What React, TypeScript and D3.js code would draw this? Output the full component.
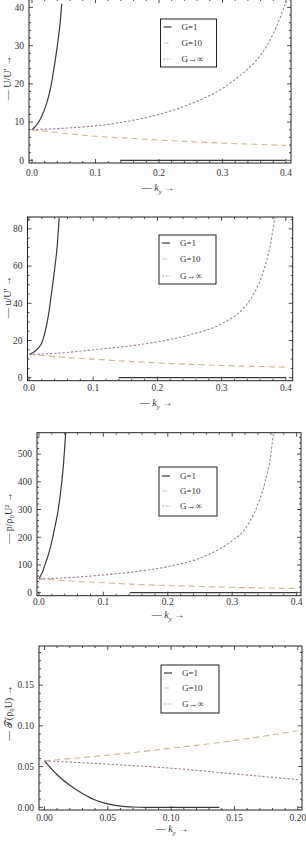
import React from "react";
import * as d3 from "d3";

// ---------- data ----------
const seriesNames = ["G=1", "G=10", "G\u2192\u221e"];

// Panel 1: U/U'
const p1G1: [number, number][] = [[0, 8], [0.005, 8.8], [0.01, 9.9], [0.015, 11.4], [0.02, 13.4], [0.025, 16], [0.03, 19.5], [0.035, 24.5], [0.04, 30], [0.044, 35.5], [0.047, 41]];
const p1G1Zero: [number, number][] = [[0.139, 0], [0.4, 0]];
const p1G10: [number, number][] = [[0, 8], [0.05, 7.1], [0.1, 6.3], [0.15, 5.8], [0.2, 5.3], [0.25, 4.9], [0.3, 4.5], [0.35, 4.2], [0.4, 3.9]];
const p1Ginf: [number, number][] = [[0, 8], [0.05, 8.4], [0.1, 9], [0.15, 10.2], [0.2, 12], [0.25, 14.8], [0.3, 18.8], [0.33, 22.5], [0.35, 25.5], [0.37, 30], [0.385, 35], [0.4, 41.5]];

// Panel 2: u/U'
const p2G1: [number, number][] = [[0, 12.5], [0.005, 13.3], [0.01, 14.5], [0.015, 16.2], [0.02, 18.8], [0.025, 24.5], [0.03, 33], [0.035, 45], [0.04, 58.5], [0.044, 71], [0.047, 86]];
const p2G1Zero: [number, number][] = [[0.14, 0], [0.4, 0]];
const p2G10: [number, number][] = [[0, 12.5], [0.05, 11.1], [0.1, 10], [0.15, 8.9], [0.2, 8], [0.25, 7.2], [0.3, 6.6], [0.35, 6.1], [0.4, 5.7]];
const p2Ginf: [number, number][] = [[0, 12.5], [0.05, 13.3], [0.1, 15], [0.15, 16.8], [0.2, 19.3], [0.25, 23], [0.3, 29], [0.33, 36], [0.35, 45], [0.365, 57], [0.375, 70], [0.383, 86]];

// Panel 3: p/rho0 U^2
const p3G1: [number, number][] = [[0, 50], [0.005, 72], [0.01, 105], [0.015, 140], [0.02, 185], [0.025, 240], [0.03, 300], [0.035, 390], [0.038, 460], [0.0415, 577]];
const p3G1Zero: [number, number][] = [[0.141, 0], [0.4, 0]];
const p3G10: [number, number][] = [[0, 50], [0.05, 42], [0.1, 36], [0.15, 30], [0.2, 26], [0.25, 22.5], [0.3, 19.5], [0.35, 17], [0.4, 15]];
const p3Ginf: [number, number][] = [[0, 50], [0.05, 55], [0.1, 64], [0.15, 76], [0.2, 94], [0.25, 125], [0.3, 188], [0.32, 230], [0.34, 320], [0.35, 390], [0.36, 500], [0.364, 577]];

// Panel 4: T/(rho0 U)
const p4G1: [number, number][] = [[0, 0.057], [0.01, 0.04], [0.02, 0.027], [0.03, 0.017], [0.04, 0.009], [0.05, 0.0042], [0.06, 0.0015], [0.07, 0.0004], [0.08, 0], [0.138, 0]];
const p4G10: [number, number][] = [[0, 0.057], [0.05, 0.064], [0.1, 0.0725], [0.15, 0.082], [0.2, 0.094]];
const p4Ginf: [number, number][] = [[0, 0.057], [0.05, 0.053], [0.1, 0.048], [0.15, 0.041], [0.2, 0.034]];

// tick labels
const xTicks1 = [0, 0.1, 0.2, 0.3, 0.4];
const xTicks4 = [0, 0.05, 0.1, 0.15, 0.2];
const yTicks1 = [0, 10, 20, 30, 40];
const yTicks2 = [0, 20, 40, 60, 80];
const yTicks3 = [0, 100, 200, 300, 400, 500];
const yTicks4 = [0, 0.05, 0.1, 0.15];

const yLabels = ["U/U\u2032", "u/U\u2032", "p/\u03c1\u2080U\u00b2", "\ud835\udcaf(\u03c1\u2080U)"];

// ---------- styles ----------
const COLORS = ["#3a3a3a", "#c9b58f", "#9c8199"];
const DASHES = ["", "6,4", "2.4,1.8"];
const WIDTHS = [1.2, 1.1, 1.1];
const FONT = "'Liberation Serif', 'DejaVu Serif', serif";

type Panel = {
  frame: { l: number; r: number; t: number; b: number };
  xDom: [number, number];
  yDom: [number, number];
  xTicks: number[];
  xMinor: number;
  xFmt: string;
  yTicks: number[];
  yMinor: number;
  yFmt: string;
  series: [number, number][][][];
  legend: { l: number; r: number; t: number; b: number; rows: number[] };
  yLabel: string;
  yLabelPos: [number, number];
  xLabelY: number;
  xLabelX: number;
  xTickY: number;
};

const panels: Panel[] = [
  {
    frame: { l: 29, r: 291, t: -1, b: 163 },
    xDom: [-0.0047, 0.4079], yDom: [-0.7, 42.2],
    xTicks: xTicks1, xMinor: 0.02, xFmt: ".1f",
    yTicks: yTicks1, yMinor: 2, yFmt: "d",
    series: [[p1G1, p1G1Zero], [p1G10], [p1Ginf]],
    legend: { l: 160.5, r: 216.5, t: 19, b: 67, rows: [27, 43, 59] },
    yLabel: yLabels[0], yLabelPos: [7, 78], xLabelY: 191, xLabelX: 158, xTickY: 176,
  },
  {
    frame: { l: 27.5, r: 292.7, t: 217, b: 380.7 },
    xDom: [-0.0023, 0.4107], yDom: [-1.6, 86.4],
    xTicks: xTicks1, xMinor: 0.02, xFmt: ".1f",
    yTicks: yTicks2, yMinor: 5, yFmt: "d",
    series: [[p2G1, p2G1Zero], [p2G10], [p2Ginf]],
    legend: { l: 159, r: 216, t: 235, b: 284, rows: [243, 259, 276] },
    yLabel: yLabels[1], yLabelPos: [7, 297], xLabelY: 406, xLabelX: 156, xTickY: 391,
  },
  {
    frame: { l: 37, r: 301, t: 432.7, b: 595.7 },
    xDom: [-0.003, 0.4068], yDom: [-10.8, 577],
    xTicks: xTicks1, xMinor: 0.02, xFmt: ".1f",
    yTicks: yTicks3, yMinor: 20, yFmt: "d",
    series: [[p3G1, p3G1Zero], [p3G10], [p3Ginf]],
    legend: { l: 159, r: 217, t: 467, b: 516, rows: [476, 491, 506] },
    yLabel: yLabels[2], yLabelPos: [8, 518], xLabelY: 618, xLabelX: 168, xTickY: 605,
  },
  {
    frame: { l: 39, r: 302, t: 646, b: 810 },
    xDom: [-0.0043, 0.2033], yDom: [-0.0033, 0.198],
    xTicks: xTicks4, xMinor: 0.01, xFmt: ".2f",
    yTicks: yTicks4, yMinor: 0.01, yFmt: ".2f",
    series: [[p4G1], [p4G10], [p4Ginf]],
    legend: { l: 161, r: 219, t: 665, b: 713, rows: [673, 688, 704] },
    yLabel: yLabels[3], yLabelPos: [8, 713], xLabelY: 832, xLabelX: 172, xTickY: 821,
  },
];

function minorTicks(dom: [number, number], step: number): number[] {
  const out: number[] = [];
  const start = Math.ceil(dom[0] / step - 1e-9);
  const end = Math.floor(dom[1] / step + 1e-9);
  for (let i = start; i <= end; i++) out.push(+(i * step).toFixed(6));
  return out;
}

function PanelView({ p, idx }: { p: Panel; idx: number }) {
  const { frame } = p;
  const x = d3.scaleLinear().domain(p.xDom).range([frame.l, frame.r]);
  const y = d3.scaleLinear().domain(p.yDom).range([frame.b, frame.t]);
  const line = d3.line<[number, number]>().x((d) => x(d[0])).y((d) => y(d[1])).curve(d3.curveMonotoneX);
  const xf = d3.format(p.xFmt);
  const yf = d3.format(p.yFmt);
  const xMin = minorTicks(p.xDom, p.xMinor);
  const yMin = minorTicks(p.yDom, p.yMinor);
  const isMajor = (v: number, arr: number[]) => arr.some((a) => Math.abs(a - v) < 1e-7);
  const clipId = `clip${idx}`;
  const tickColor = "#222";
  return (
    <g>
      <defs>
        <clipPath id={clipId}>
          <rect x={frame.l} y={frame.t} width={frame.r - frame.l} height={frame.b - frame.t} />
        </clipPath>
      </defs>
      {xMin.map((v, i) => {
        const mj = isMajor(v, p.xTicks);
        const L = mj ? 4 : 2;
        const xv = x(v);
        return (
          <g key={`xt${i}`} stroke={tickColor} strokeWidth={0.8}>
            <line x1={xv} x2={xv} y1={frame.b} y2={frame.b - L} />
            <line x1={xv} x2={xv} y1={frame.t} y2={frame.t + L} />
          </g>
        );
      })}
      {yMin.map((v, i) => {
        const mj = isMajor(v, p.yTicks);
        const L = mj ? 4 : 2;
        const yv = y(v);
        return (
          <g key={`yt${i}`} stroke={tickColor} strokeWidth={0.8}>
            <line x1={frame.l} x2={frame.l + L} y1={yv} y2={yv} />
            <line x1={frame.r} x2={frame.r - L} y1={yv} y2={yv} />
          </g>
        );
      })}
      <rect x={frame.l} y={frame.t} width={frame.r - frame.l} height={frame.b - frame.t} fill="none" stroke="#222" strokeWidth={1} />
      {p.xTicks.map((v) => (
        <text key={`xl${v}`} x={x(v)} y={p.xTickY} textAnchor="middle" fontSize={9.5} fontFamily={FONT} fill="#333">
          {xf(v)}
        </text>
      ))}
      {p.yTicks.map((v) => (
        <text key={`yl${v}`} x={frame.l - 5} y={y(v) + 3.3} textAnchor="end" fontSize={9.5} fontFamily={FONT} fill="#333">
          {yf(v)}
        </text>
      ))}
      <g clipPath={`url(#${clipId})`}>
        {p.series.map((segs, si) =>
          segs.map((seg, k) => (
            <path key={`s${si}-${k}`} d={line(seg) || ""} fill="none" stroke={COLORS[si]} strokeWidth={WIDTHS[si]} strokeDasharray={DASHES[si]} />
          ))
        )}
      </g>
      <rect x={p.legend.l} y={p.legend.t} width={p.legend.r - p.legend.l} height={p.legend.b - p.legend.t} fill="white" stroke="#222" strokeWidth={1} />
      {seriesNames.map((name, si) => {
        const ry = p.legend.rows[si];
        return (
          <g key={`lg${si}`}>
            <line x1={p.legend.l + 3} x2={p.legend.l + 11} y1={ry} y2={ry} stroke={COLORS[si]} strokeWidth={WIDTHS[si]} strokeDasharray={si === 0 ? "" : si === 1 ? "5,3" : "2,1.5"} opacity={si === 0 ? 1 : 0.7} />
            <text x={p.legend.l + 21} y={ry + 3.2} fontSize={9} fontFamily={FONT} fill="#333">
              {name}
            </text>
          </g>
        );
      })}
      <text x={p.xLabelX} y={p.xLabelY} textAnchor="middle" fontSize={10} fontFamily={FONT} fill="#333">
        {"\u2014 "}
        <tspan fontStyle="italic">k</tspan>
        <tspan fontStyle="italic" fontSize={7} dy={2.5}>y</tspan>
        <tspan dy={-2.5}>{" \u2192"}</tspan>
      </text>
      <text
        transform={`translate(${p.yLabelPos[0] + 3.5},${p.yLabelPos[1]}) rotate(-90)`}
        textAnchor="middle"
        fontSize={10}
        fontFamily={FONT}
        fill="#333"
      >
        {`\u2014 ${p.yLabel} \u2192`}
      </text>
    </g>
  );
}

export default function App() {
  return (
    <svg width={306} height={844} style={{ position: "absolute", left: 0, top: 0, background: "white" }}>
      <rect x={0} y={0} width={306} height={844} fill="white" />
      {panels.map((p, i) => (
        <PanelView key={i} p={p} idx={i} />
      ))}
    </svg>
  );
}
